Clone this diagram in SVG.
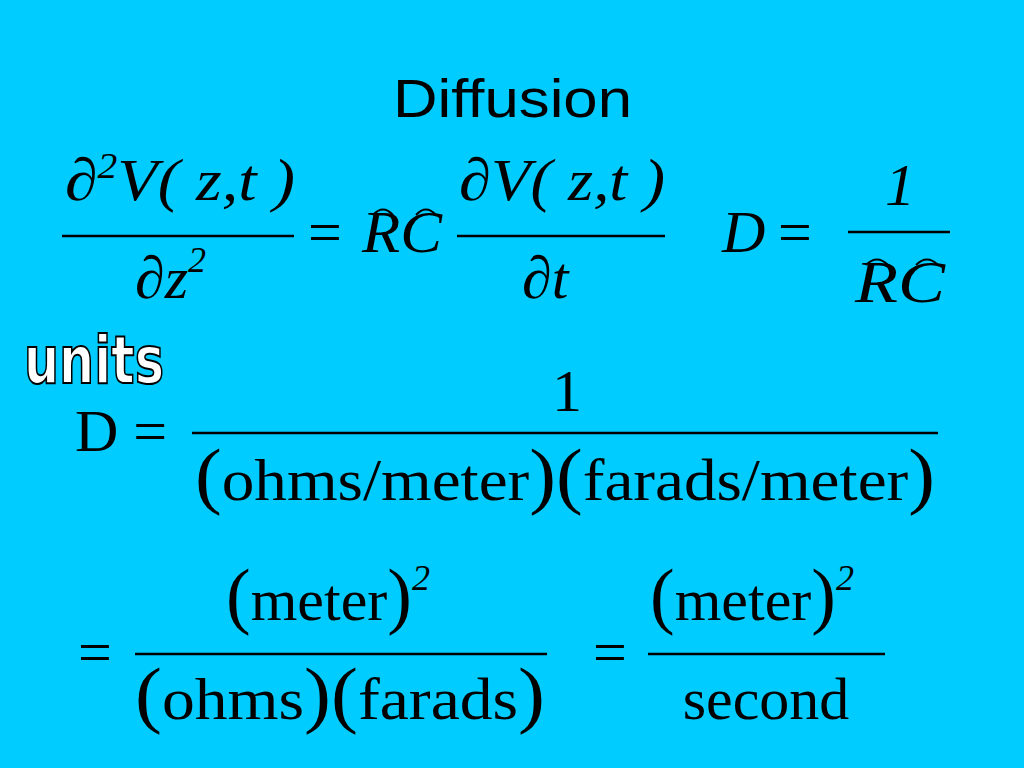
<svg xmlns="http://www.w3.org/2000/svg" width="1024" height="768" viewBox="0 0 1024 768">
<style>
.m{font-family:"Liberation Serif",serif;font-size:60px;fill:#000}
.i{font-style:italic}
.p{font-size:74px}
.s{font-size:36px}
.l{stroke:#000;stroke-width:2.5}
.h{fill:none;stroke:#000;stroke-width:2}
</style>
<rect width="1024" height="768" fill="#00CCFF"/>
<text x="393" y="117" font-family="Liberation Sans,sans-serif" font-size="54" textLength="239" lengthAdjust="spacingAndGlyphs">Diffusion</text>
<g id="eq1">
<text class="m i" x="65" y="200" textLength="230" lengthAdjust="spacingAndGlyphs">∂<tspan class="s" dy="-22">2</tspan><tspan dy="22">V( z,t )</tspan></text>
<line class="l" x1="62" y1="236" x2="294" y2="236"/>
<text class="m i" x="135" y="298">∂z<tspan class="s" dy="-26">2</tspan></text>
<text class="m" x="308" y="252">=</text>
<text class="m i" x="362" y="252" textLength="80" lengthAdjust="spacingAndGlyphs">RC</text>
<path class="h" d="M373 215 Q383 204 393 215 M416 215 Q426 204 436 215"/>
<text class="m i" x="459" y="200" textLength="206" lengthAdjust="spacingAndGlyphs">∂V( z,t )</text>
<line class="l" x1="457" y1="236" x2="665" y2="236"/>
<text class="m i" x="522" y="298">∂t</text>
<text class="m i" x="722" y="252">D</text>
<text class="m" x="778" y="252">=</text>
<text class="m i" x="885" y="205">1</text>
<line class="l" x1="848" y1="232" x2="950" y2="232"/>
<text class="m i" x="855" y="302" textLength="90" lengthAdjust="spacingAndGlyphs">RC</text>
<path class="h" d="M866 265 Q877 254 888 265 M916 265 Q927 254 938 265"/>
</g>
<text x="24" y="383" font-family="DejaVu Sans,sans-serif" font-weight="bold" font-size="66" fill="#fff" stroke="#000" stroke-width="2" textLength="140" lengthAdjust="spacingAndGlyphs">units</text>
<g id="eq2">
<text class="m" x="75" y="451">D =</text>
<text class="m" x="567" y="411" text-anchor="middle">1</text>
<line class="l" x1="192" y1="433" x2="938" y2="433"/>
<text class="m" x="195" y="500" textLength="740" lengthAdjust="spacingAndGlyphs"><tspan class="p">(</tspan>ohms/meter<tspan class="p">)(</tspan>farads/meter<tspan class="p">)</tspan></text>
</g>
<g id="eq3">
<text class="m" x="78" y="672">=</text>
<text class="m" x="226" y="620"><tspan class="p">(</tspan>meter<tspan class="p">)</tspan><tspan class="s i" dy="-30">2</tspan></text>
<line class="l" x1="135" y1="654" x2="547" y2="654"/>
<text class="m" x="135" y="719" textLength="410" lengthAdjust="spacingAndGlyphs"><tspan class="p">(</tspan>ohms<tspan class="p">)(</tspan>farads<tspan class="p">)</tspan></text>
<text class="m" x="593" y="672">=</text>
<text class="m" x="650" y="620"><tspan class="p">(</tspan>meter<tspan class="p">)</tspan><tspan class="s i" dy="-30">2</tspan></text>
<line class="l" x1="648" y1="654" x2="885" y2="654"/>
<text class="m" x="766" y="719" text-anchor="middle">second</text>
</g>
</svg>
